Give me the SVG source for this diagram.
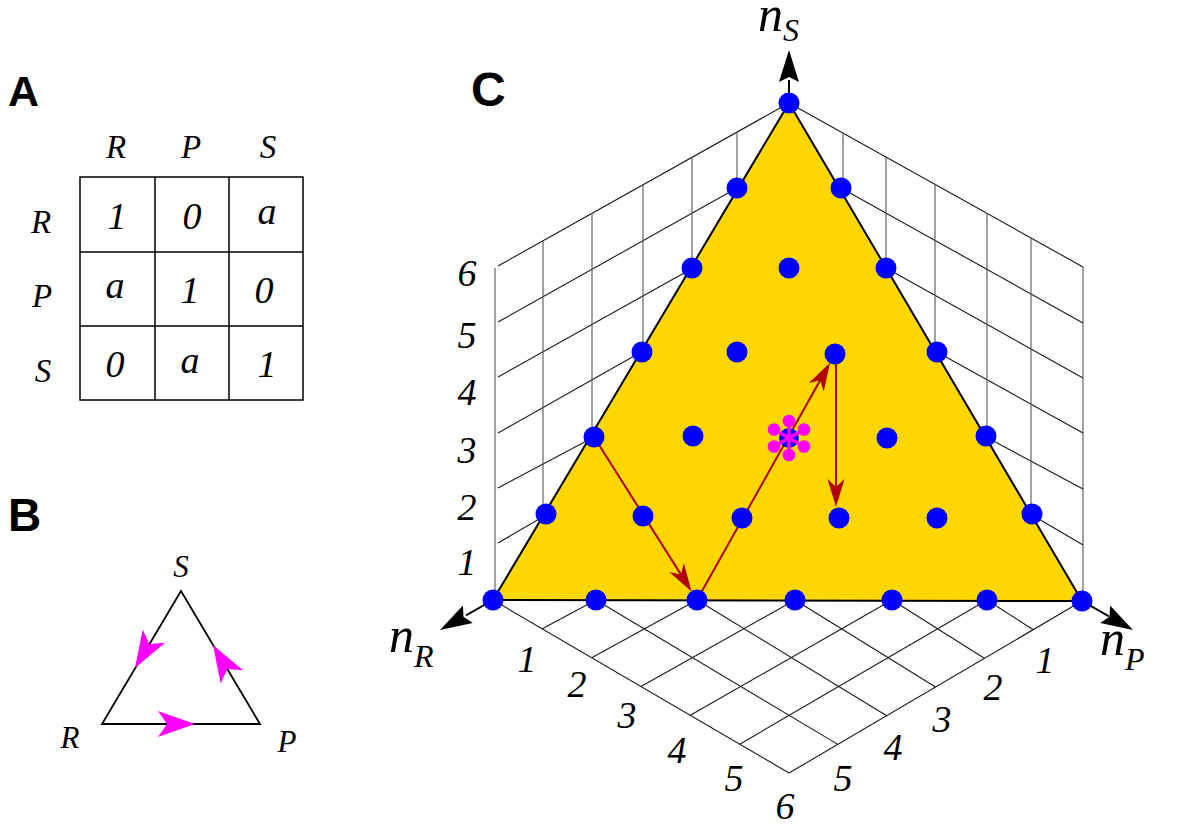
<svg xmlns="http://www.w3.org/2000/svg" width="1200" height="827" viewBox="0 0 1200 827">
<style>
.lbl{font-family:"Liberation Sans",Arial,sans-serif;font-weight:bold;fill:#000}
.it{font-family:"Liberation Serif","Times New Roman",serif;font-style:italic;fill:#000}
.grid{stroke:#1a1a1a;stroke-width:1.1;fill:none}
.vgrid{stroke:#555;stroke-width:1.1;fill:none}
.tbl{stroke:#000;stroke-width:1.5;fill:none}
.dot{fill:#0000ff}
.red{stroke:#b00000;stroke-width:2;fill:none}
</style>
<defs>
<path id="dart" d="M0,0 L-37,-13 L-28,0 L-37,13 Z" fill="#ff00ff"/>
<path id="rhead" d="M0,0 L-28,-8.5 L-20,0 L-28,8.5 Z" fill="#b00000"/>
<path id="khead" d="M0,0 L-32,-10 L-27,0 L-32,10 Z" fill="#000"/>
</defs>

<!-- Panel A -->
<g id="panelA">
<text class="lbl" x="8" y="106" font-size="43">A</text>
<g class="it" font-size="33" text-anchor="middle">
<text x="116" y="158">R</text><text x="191" y="158">P</text><text x="268" y="158">S</text>
<text x="41" y="233">R</text><text x="42" y="307">P</text><text x="43" y="382">S</text>
</g>
<rect class="tbl" x="80" y="177" width="223" height="223"/>
<line class="tbl" x1="155" y1="177" x2="155" y2="400"/>
<line class="tbl" x1="229" y1="177" x2="229" y2="400"/>
<line class="tbl" x1="80" y1="252" x2="303" y2="252"/>
<line class="tbl" x1="80" y1="326" x2="303" y2="326"/>
<g class="it" font-size="38" text-anchor="middle">
<text x="117" y="229">1</text><text x="192" y="229">0</text><text x="267" y="224">a</text>
<text x="115" y="298">a</text><text x="190" y="303">1</text><text x="264" y="303">0</text>
<text x="115" y="377">0</text><text x="190" y="373">a</text><text x="267" y="377">1</text>
</g>
</g>

<!-- Panel B -->
<g id="panelB">
<text class="lbl" x="8" y="531" font-size="46">B</text>
<polygon points="181,591 102,724 260,724" fill="none" stroke="#000" stroke-width="1.8" stroke-linejoin="miter"/>
<use href="#dart" transform="translate(195,724)"/>
<use href="#dart" transform="translate(135,668) rotate(120.7)"/>
<use href="#dart" transform="translate(213,645) rotate(-120.7)"/>
<g class="it" font-size="31" text-anchor="middle">
<text x="181" y="577">S</text><text x="70" y="748">R</text><text x="287" y="752">P</text>
</g>
</g>

<!-- Panel C -->
<g id="panelC">
<text class="lbl" x="471" y="106" font-size="48">C</text>

<g id="leftwall">
<line class="grid" x1="498" y1="266" x2="789" y2="103"/>
<line class="grid" x1="498" y1="322" x2="737" y2="188"/>
<line class="grid" x1="498" y1="377" x2="693" y2="268"/>
<line class="grid" x1="498" y1="433" x2="643" y2="351"/>
<line class="grid" x1="498" y1="488" x2="594" y2="437"/>
<line class="grid" x1="498" y1="543" x2="546" y2="515"/>
<line class="vgrid" x1="495" y1="268" x2="495" y2="600"/>
<line class="vgrid" x1="543" y1="241" x2="543" y2="515"/>
<line class="vgrid" x1="592" y1="213" x2="592" y2="437"/>
<line class="vgrid" x1="643" y1="185" x2="643" y2="351"/>
<line class="vgrid" x1="692" y1="157" x2="692" y2="268"/>
<line class="vgrid" x1="737" y1="132" x2="737" y2="188"/>
</g>

<g id="rightwall">
<line class="grid" x1="789" y1="103" x2="1083" y2="267"/>
<line class="grid" x1="841" y1="188" x2="1083" y2="323"/>
<line class="grid" x1="886" y1="268" x2="1083" y2="378"/>
<line class="grid" x1="937" y1="352" x2="1083" y2="433"/>
<line class="grid" x1="986" y1="437" x2="1083" y2="489"/>
<line class="grid" x1="1032" y1="515" x2="1083" y2="545"/>
<line class="vgrid" x1="843" y1="133" x2="843" y2="188"/>
<line class="vgrid" x1="886" y1="157" x2="886" y2="268"/>
<line class="vgrid" x1="935" y1="184" x2="935" y2="352"/>
<line class="vgrid" x1="987" y1="213" x2="987" y2="437"/>
<line class="vgrid" x1="1031" y1="238" x2="1031" y2="515"/>
<line class="vgrid" x1="1083" y1="267" x2="1083" y2="601"/>
</g>

<g id="floor">
<line class="grid" x1="493" y1="600" x2="789" y2="773"/>
<line class="grid" x1="1082" y1="601" x2="789" y2="773"/>
<line class="grid" x1="596" y1="600" x2="542.3" y2="628.8"/>
<line class="grid" x1="697" y1="600" x2="591.7" y2="657.7"/>
<line class="grid" x1="795" y1="600" x2="641" y2="686.5"/>
<line class="grid" x1="892" y1="600" x2="690.3" y2="715.3"/>
<line class="grid" x1="987" y1="600" x2="739.7" y2="744.2"/>
<line class="grid" x1="596" y1="600" x2="837.8" y2="744.4"/>
<line class="grid" x1="697" y1="600" x2="886.7" y2="715.7"/>
<line class="grid" x1="795" y1="600" x2="935.5" y2="687"/>
<line class="grid" x1="892" y1="600" x2="984.3" y2="658.3"/>
<line class="grid" x1="987" y1="600" x2="1033.2" y2="629.7"/>
</g>

<g id="simplex">
<polygon points="789,103 493,600 1082,601" fill="#ffd700" stroke="#000" stroke-width="2" stroke-linejoin="miter"/>
</g>

<g id="axes">
<line x1="789" y1="103" x2="789" y2="80" stroke="#000" stroke-width="2"/>
<use href="#khead" transform="translate(789,50) rotate(-90)"/>
<line x1="493" y1="600" x2="466" y2="615.3" stroke="#000" stroke-width="2"/>
<use href="#khead" transform="translate(440,630) rotate(150.5)"/>
<line x1="1082" y1="601" x2="1109" y2="616.3" stroke="#000" stroke-width="2"/>
<use href="#khead" transform="translate(1133,630) rotate(29.6)"/>
</g>

<g id="ticks" class="it" font-size="38" text-anchor="middle">
<text x="467" y="286">6</text><text x="467" y="348">5</text><text x="467" y="405">4</text>
<text x="467" y="463">3</text><text x="467" y="520">2</text><text x="467" y="575">1</text>
<text x="527" y="672">1</text><text x="577" y="697">2</text><text x="627" y="728">3</text>
<text x="677" y="763">4</text><text x="734" y="791">5</text><text x="785" y="819">6</text>
<text x="1045" y="673">1</text><text x="993" y="700">2</text><text x="942" y="732">3</text>
<text x="893" y="760">4</text><text x="843" y="791">5</text>
</g>

<g id="axislabels" class="it">
<text x="758" y="31" font-size="50">n<tspan font-size="32" dy="10">S</tspan></text>
<text x="389" y="652" font-size="50">n<tspan font-size="32" dy="15">R</tspan></text>
<text x="1100" y="655" font-size="50">n<tspan font-size="32" dy="15">P</tspan></text>
</g>

<g id="connectors">
<line class="red" x1="594" y1="437" x2="681" y2="574.6"/>
<use href="#rhead" transform="translate(691.6,591.5) rotate(57.7)"/>
<line class="red" x1="697" y1="600" x2="820.2" y2="380.2"/>
<use href="#rhead" transform="translate(830,362.8) rotate(-60.7)"/>
<line class="red" x1="836" y1="356" x2="836" y2="488"/>
<use href="#rhead" transform="translate(836,507) rotate(90)"/>
</g>

<g id="dots">
<circle class="dot" cx="789" cy="103" r="10.5"/>
<circle class="dot" cx="737" cy="188" r="10.5"/><circle class="dot" cx="841" cy="188" r="10.5"/>
<circle class="dot" cx="692" cy="268" r="10.5"/><circle class="dot" cx="789" cy="268" r="10.5"/><circle class="dot" cx="886" cy="268" r="10.5"/>
<circle class="dot" cx="642" cy="352" r="10.5"/><circle class="dot" cx="737" cy="352" r="10.5"/><circle class="dot" cx="835" cy="354" r="10.5"/><circle class="dot" cx="937" cy="352" r="10.5"/>
<circle class="dot" cx="594" cy="437" r="10.5"/><circle class="dot" cx="693" cy="436" r="10.5"/><circle class="dot" cx="887" cy="438" r="10.5"/><circle class="dot" cx="986" cy="436" r="10.5"/>
<circle class="dot" cx="546" cy="514" r="10.5"/><circle class="dot" cx="643" cy="516" r="10.5"/><circle class="dot" cx="742" cy="518" r="10.5"/><circle class="dot" cx="839" cy="518" r="10.5"/><circle class="dot" cx="937" cy="518" r="10.5"/><circle class="dot" cx="1032" cy="514" r="10.5"/>
<circle class="dot" cx="493" cy="600" r="10.5"/><circle class="dot" cx="596" cy="600" r="10.5"/><circle class="dot" cx="697" cy="600" r="10.5"/><circle class="dot" cx="795" cy="600" r="10.5"/><circle class="dot" cx="892" cy="600" r="10.5"/><circle class="dot" cx="987" cy="600" r="10.5"/><circle class="dot" cx="1082" cy="601" r="10.5"/>
</g>

<g id="asterisk">
<circle class="dot" cx="789" cy="438" r="10"/>
<g stroke="#ff00ff" stroke-width="3.5">
<line x1="789" y1="421" x2="789" y2="455"/>
<line x1="774" y1="429.5" x2="804" y2="446.5"/>
<line x1="774" y1="446.5" x2="804" y2="429.5"/>
</g>
<g fill="#ff00ff">
<circle cx="789" cy="421" r="6.3"/><circle cx="789" cy="455" r="6.3"/>
<circle cx="774" cy="429.5" r="6.3"/><circle cx="804" cy="429.5" r="6.3"/>
<circle cx="774" cy="446.5" r="6.3"/><circle cx="804" cy="446.5" r="6.3"/>
</g>
</g>
</g>
</svg>
